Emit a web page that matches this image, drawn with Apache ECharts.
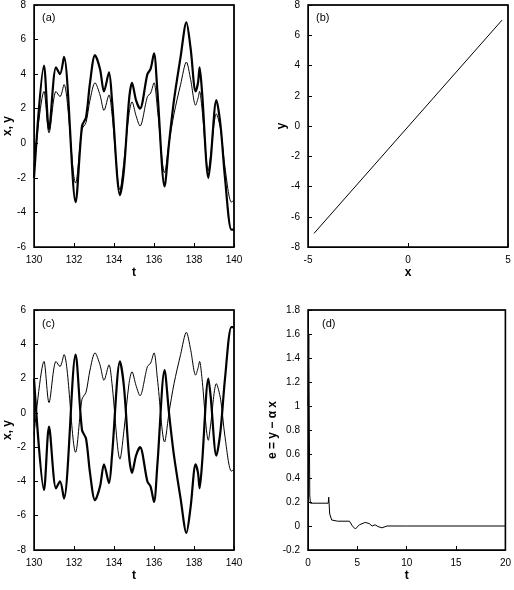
<!DOCTYPE html>
<html><head><meta charset="utf-8">
<script src="https://cdn.jsdelivr.net/npm/echarts@6/dist/echarts.min.js"></script>
<style>html,body{margin:0;background:#fff}#c{width:514px;height:590px}</style>
</head><body><div id="c"></div>
<script>
// time samples (a) and (c)
const tA = [130,130.5,130.75,131.1,131.3,131.5,132.08,132.4,132.6,132.8,133.05,133.3,133.5,133.75,133.9,134.3,134.5,134.75,134.9,135.1,135.3,135.67,135.83,136.0,136.17,136.53,136.75,137,137.33,137.62,137.83,138.08,138.2,138.28,138.4,138.72,138.83,139.12,139.33,139.55,139.87,140];
const xA = [-1.3,3.0,0.6,3.0,2.7,3.4,-2.3,0.8,1.2,2.5,3.5,2.8,1.9,2.8,1.7,-2.7,-1.0,1.7,2.4,1.6,1.0,2.7,2.9,3.5,2.0,-1.7,0,1.7,3.4,4.7,3.7,2.2,2.6,3.0,2.0,-1.6,-0.7,1.7,0.8,-1.4,-3.4,-3.3];
const yA = [-2.0,4.5,0.8,4.4,4.0,5.0,-3.4,1.0,1.5,3.5,5.1,4.3,3.0,4.1,2.5,-3.0,-1.5,2.5,3.5,2.5,2.0,4.0,4.3,5.2,3.0,-2.5,0,2.5,5.0,7.0,5.5,3.0,3.5,4.4,3.0,-2.0,-1.0,2.5,1.0,-2.0,-5.0,-5.0];
const yC = [2.0,-4.5,-0.8,-4.4,-4.0,-5.0,3.4,-1.0,-1.5,-3.5,-5.1,-4.3,-3.0,-4.1,-2.5,3.0,1.5,-2.5,-3.5,-2.5,-2.0,-4.0,-4.3,-5.2,-3.0,2.5,0,-2.5,-5.0,-7.0,-5.5,-3.0,-3.5,-4.4,-3.0,2.0,1.0,-2.5,-1.0,2.0,5.0,5.0];
// panel (b)
const xB = [-4.7, 4.7];
const yB = [-7.1, 7.0];
// panel (d)
const tD = [0,0.08,0.15,0.18,0.25,1.0,2.05,2.1,2.2,2.4,3.0,4.2,4.5,4.8,5.2,5.8,6.2,6.5,6.8,7.1,7.5,8.0,10,20];
const eD = [1.0,1.6,1.6,0.25,0.19,0.19,0.19,0.24,0.1,0.05,0.04,0.04,0.0,-0.025,0.01,0.03,0.02,0.0,0.01,-0.005,-0.015,0,0,0];

const font = 'Liberation Sans';
const grids = [
  {left:34, top:4, width:200, height:243},
  {left:308, top:4, width:200, height:243},
  {left:34, top:310, width:200, height:240},
  {left:308, top:310, width:200, height:240}
].map(g => Object.assign(g, {show:true, borderColor:'#000', borderWidth:1.5}));
const xAxis = [], yAxis = [], ranges = [];
function axes(i, xr, yr, xn, yn, ygap) {
  const base = {type:'value', gridIndex:i, axisLine:{show:true, onZero:false, lineStyle:{color:'#000'}},
    axisTick:{inside:true, length:4, lineStyle:{color:'#000'}}, splitLine:{show:false}};
  const lab = {color:'#000', fontFamily:font, fontSize:10};
  const nm = {fontFamily:font, fontWeight:'bold', fontSize:12, color:'#000'};
  xAxis.push(Object.assign({}, base, {min:xr[0], max:xr[1], interval:xr[2], axisLabel:lab,
    name:xn, nameLocation:'middle', nameGap:20, nameTextStyle:nm}));
  yAxis.push(Object.assign({}, base, {min:yr[0], max:yr[1], interval:yr[2], axisLabel:lab,
    name:yn, nameLocation:'middle', nameGap:ygap, nameTextStyle:nm}));
  ranges.push([xr, yr]);
}
axes(0, [130,140,2], [-6,8,2], 't', 'x, y', 20);
axes(1, [-5,5,5], [-8,8,2], 'x', 'y', 20);
axes(2, [130,140,2], [-8,6,2], 't', 'x, y', 20);
axes(3, [0,20,5], [-0.2,1.8,0.2], 't', 'e = y − α x', 24);

const zip = (a, b) => a.map((v, i) => [v, b[i]]);
function line(i, data, w, smooth) {
  return {type:'line', xAxisIndex:i, yAxisIndex:i, data, smooth, showSymbol:false,
    lineStyle:{color:'#000', width:w}, silent:true};
}
const series = [
  line(0, zip(tA, xA), 1, 0.3), line(0, zip(tA, yA), 2.2, 0.3),
  line(1, zip(xB, yB), 1, false),
  line(2, zip(tA, xA), 1, 0.3), line(2, zip(tA, yC), 2.2, 0.3),
  line(3, zip(tD, eD), 1, false)
];
// top and right edges of each box, drawn at the axis limits
ranges.forEach(([xr, yr], i) => {
  const s = line(i, [[xr[0], yr[1]], [xr[1], yr[1]], [xr[1], yr[0]]], 1.2, false);
  s.clip = false;
  series.push(s);
});
const labels = [['(a)',42,12],['(b)',316,12],['(c)',42,318],['(d)',322,318]].map(([t,x,y]) =>
  ({type:'text', left:x, top:y, style:{text:t, font:'11px '+font, fill:'#000'}}));
const chart = echarts.init(document.getElementById('c'));
chart.setOption({animation:false, grid:grids, xAxis, yAxis, series, graphic:labels});
</script></body></html>
